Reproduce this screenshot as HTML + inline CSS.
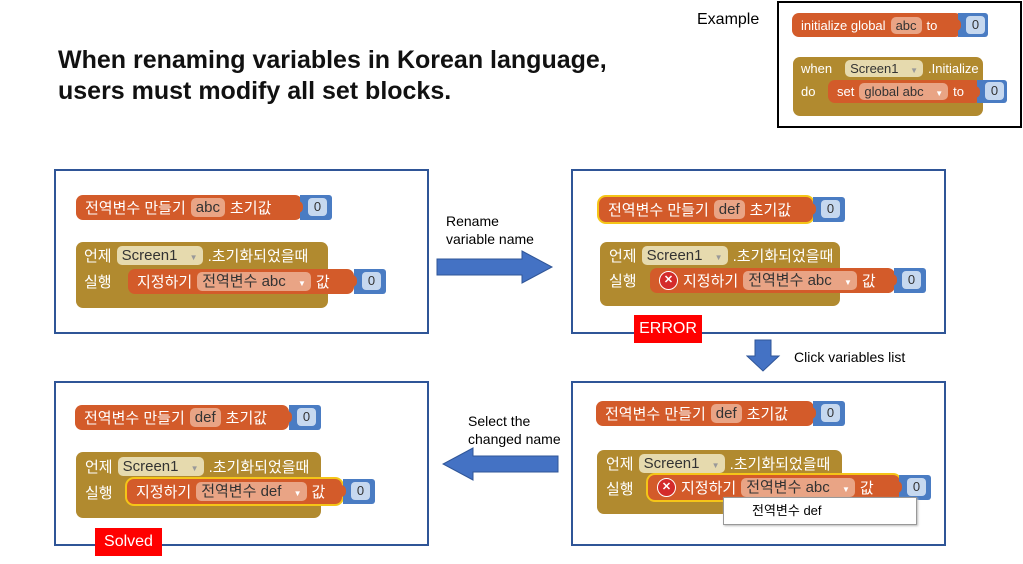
<!DOCTYPE html>
<html><head><meta charset="utf-8"><style>
body{margin:0;width:1023px;height:564px;background:#fff;position:relative;overflow:hidden;font-family:"Liberation Sans","Noto Sans CJK KR",sans-serif}
.a{position:absolute}
.panel{position:absolute;border:2px solid #2F5597;box-sizing:border-box;background:#fff}
.o{position:absolute;background:#D35B2A;border-radius:7px;color:#fff;height:25px;display:flex;align-items:center;font-size:15px;padding-left:9px;box-sizing:border-box;gap:5px;white-space:nowrap}
.hl{box-shadow:0 0 0 2px #F5C518}
.p{background:#E9A485;border-radius:5px;padding:0 5px;color:#333;height:19px;line-height:19px;font-size:15px}
.bl{position:absolute;background:#4A7CC3;height:25px;width:32px;border-radius:0 3px 3px 0}
.bl span{position:absolute;left:8px;top:3px;width:19px;height:18px;background:#C6D8EF;border-radius:4px;color:#333;font-size:13px;text-align:center;line-height:18px}
.bl:before{content:"";position:absolute;left:-2px;top:6px;width:5px;height:12px;background:#D35B2A;border-radius:0 6px 6px 0}
.g{position:absolute;background:#B18A2F;border-radius:7px;}
.gt{position:absolute;color:#fff;font-size:15px;white-space:nowrap;display:flex;align-items:center;gap:5px}
.gp{background:#E6DAAE;border-radius:5px;padding:0 5px;color:#333;height:19px;line-height:19px}
.dd{font-size:8px;color:#999;margin-left:8px}
.x{display:inline-block;width:17px;height:17px;border-radius:50%;background:#D42B2B;border:1px solid #fff;color:#fff;font-size:11px;line-height:17px;text-align:center;font-weight:bold}
.lbl{position:absolute;background:#F00;color:#fff;font-size:16px;text-align:center}
</style></head><body>

<div class="a" style="left:58px;top:45px;font-size:25px;font-weight:bold;line-height:31px;color:#111">When renaming variables in Korean language,<br>users must modify all set blocks.</div>
<div class="a" style="left:697px;top:11px;font-size:16px">Example</div>
<div class="a" style="left:777px;top:1px;width:245px;height:127px;border:2px solid #000;box-sizing:border-box"></div>
<div class="o" style="left:792px;top:13px;width:170px;height:24px;font-size:13px">initialize global <span class="p" style="font-size:13px;height:17px;line-height:17px">abc</span> to</div>
<div class="bl" style="left:958px;top:13px;height:24px;width:30px"><span>0</span></div>
<div class="g" style="left:793px;top:57px;width:190px;height:59px"></div>
<div class="gt" style="left:801px;top:60px;font-size:13px">when <span class="gp" style="margin-left:8px;height:17px;line-height:17px">Screen1 <span class="dd">▼</span></span>.Initialize</div>
<div class="gt" style="left:801px;top:84px;font-size:13px">do</div>
<div class="o" style="left:828px;top:80px;width:153px;height:23px;font-size:13px">set <span class="p" style="font-size:13px;height:17px;line-height:17px">global abc <span class="dd" style="color:#fff">▼</span></span> to</div>
<div class="bl" style="left:977px;top:80px;height:23px;width:30px"><span style="top:2px">0</span></div>

<!-- panel 1 -->
<div class="panel" style="left:54px;top:169px;width:375px;height:165px"></div>
<div class="o" style="left:76px;top:195px;width:226px">전역변수 만들기 <span class="p">abc</span> 초기값</div>
<div class="bl" style="left:300px;top:195px"><span>0</span></div>
<div class="g" style="left:76px;top:242px;width:252px;height:66px"></div>
<div class="gt" style="left:84px;top:245px">언제 <span class="gp">Screen1 <span class="dd">▼</span></span>.초기화되었을때</div>
<div class="gt" style="left:84px;top:271px">실행</div>
<div class="o" style="left:128px;top:269px;width:226px">지정하기 <span class="p">전역변수 abc <span class="dd" style="color:#fff">▼</span></span> 값</div>
<div class="bl" style="left:354px;top:269px"><span>0</span></div>

<svg class="a" style="left:436px;top:250px" width="118" height="34"><polygon points="1,9 86,9 86,1 116,17 86,33 86,25 1,25" fill="#4472C4" stroke="#2F5597"/></svg>
<div class="a" style="left:446px;top:212px;font-size:14px;line-height:18px">Rename<br>variable name</div>

<!-- panel 2 -->
<div class="panel" style="left:571px;top:169px;width:375px;height:165px"></div>
<div class="o hl" style="left:599px;top:197px;width:214px">전역변수 만들기 <span class="p">def</span> 초기값</div>
<div class="bl" style="left:813px;top:197px"><span>0</span></div>
<div class="g" style="left:600px;top:242px;width:240px;height:64px"></div>
<div class="gt" style="left:609px;top:245px">언제 <span class="gp">Screen1 <span class="dd">▼</span></span>.초기화되었을때</div>
<div class="gt" style="left:609px;top:270px">실행</div>
<div class="o" style="left:650px;top:268px;width:245px"><span class="x">✕</span> 지정하기 <span class="p">전역변수 abc <span class="dd" style="color:#fff">▼</span></span> 값</div>
<div class="bl" style="left:894px;top:268px"><span>0</span></div>
<div class="lbl" style="left:634px;top:315px;width:68px;height:28px;line-height:28px">ERROR</div>

<svg class="a" style="left:746px;top:339px" width="35" height="34"><polygon points="9,1 25,1 25,17 33,17 17,32 1,17 9,17" fill="#4472C4" stroke="#2F5597"/></svg>
<div class="a" style="left:794px;top:349px;font-size:14px">Click variables list</div>

<!-- panel 3 -->
<div class="panel" style="left:571px;top:381px;width:375px;height:165px"></div>
<div class="o" style="left:596px;top:401px;width:218px">전역변수 만들기 <span class="p">def</span> 초기값</div>
<div class="bl" style="left:813px;top:401px"><span>0</span></div>
<div class="g" style="left:597px;top:450px;width:245px;height:64px"></div>
<div class="gt" style="left:606px;top:453px">언제 <span class="gp">Screen1 <span class="dd">▼</span></span>.초기화되었을때</div>
<div class="gt" style="left:606px;top:478px">실행</div>
<div class="o hl" style="left:648px;top:475px;width:252px"><span class="x">✕</span> 지정하기 <span class="p">전역변수 abc <span class="dd" style="color:#fff">▼</span></span> 값</div>
<div class="bl" style="left:899px;top:475px"><span>0</span></div>
<div class="a" style="left:723px;top:497px;width:192px;height:26px;border:1px solid #999;background:#fff;box-shadow:1px 1px 2px #bbb;font-size:13px;line-height:26px;text-indent:28px">전역변수 def</div>

<svg class="a" style="left:442px;top:447px" width="118" height="34"><polygon points="116,9 31,9 31,1 1,17 31,33 31,25 116,25" fill="#4472C4" stroke="#2F5597"/></svg>
<div class="a" style="left:468px;top:412px;font-size:14px;line-height:18px">Select the<br>changed name</div>

<!-- panel 4 -->
<div class="panel" style="left:54px;top:381px;width:375px;height:165px"></div>
<div class="o" style="left:75px;top:405px;width:214px">전역변수 만들기 <span class="p">def</span> 초기값</div>
<div class="bl" style="left:289px;top:405px"><span>0</span></div>
<div class="g" style="left:76px;top:452px;width:245px;height:66px"></div>
<div class="gt" style="left:85px;top:456px">언제 <span class="gp">Screen1 <span class="dd">▼</span></span>.초기화되었을때</div>
<div class="gt" style="left:85px;top:482px">실행</div>
<div class="o hl" style="left:127px;top:479px;width:215px">지정하기 <span class="p">전역변수 def <span class="dd" style="color:#fff">▼</span></span> 값</div>
<div class="bl" style="left:343px;top:479px"><span>0</span></div>
<div class="lbl" style="left:95px;top:528px;width:67px;height:28px;line-height:28px">Solved</div>

</body></html>
